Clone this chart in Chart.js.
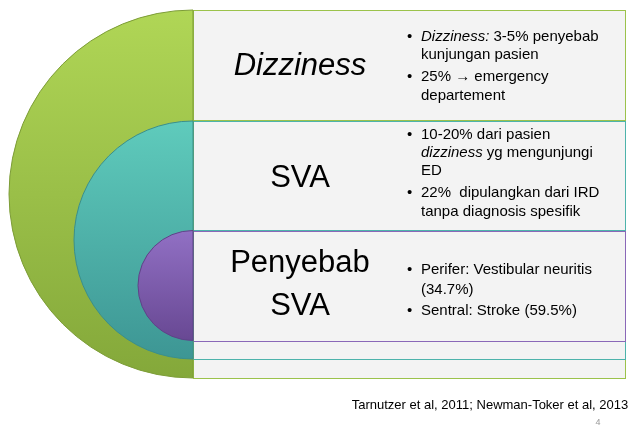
<!DOCTYPE html><html><head><script src="https://cdn.jsdelivr.net/npm/chart.js@4"></script>
<style>html,body{margin:0;background:#fff}canvas{display:block}</style></head><body>
<div style="width:638px;height:442px"><canvas id="c"></canvas></div>
<script>
const categories=["Dizziness","SVA","Penyebab\nSVA"];
const bullets=[
 [["• ",[["Dizziness:",1],[" 3-5% penyebab",0]]],["  ",[["kunjungan pasien",0]]],["• ",[["25% \u2192 emergency",0]]],["  ",[["departement",0]]]],
 [["• ",[["10-20% dari pasien",0]]],["  ",[["dizziness",1],[" yg mengunjungi",0]]],["  ",[["ED",0]]],["• ",[["22%  dipulangkan dari IRD",0]]],["  ",[["tanpa diagnosis spesifik",0]]]],
 [["• ",[["Perifer: Vestibular neuritis",0]]],["  ",[["(34.7%)",0]]],["• ",[["Sentral: Stroke (59.5%)",0]]]]
];
const citation="Tarnutzer et al, 2011; Newman-Toker et al, 2013";
const pageNo="4";
const F="'Liberation Sans','Open Sans',sans-serif";
const geo={
 circles:[{cy:194,r:184,c:["#b0d656","#84a83a"],b:"#7c9c36"},{cy:240,r:119,c:["#5fcbbc","#3d9694"],b:"#3a8f8c"},{cy:285.5,r:55,c:["#9170c4","#684893"],b:"#5e4388"}],
 rows:[[10,120,"#9bc24b"],[121,230,"#4db3ab"],[231,341,"#8a68b8"],[341,359,"#4db3ab"],[359,378,"#9bc24b"]],
 lineY:[[37,55,77,96],[135,153,171,193,212],[270,290,311]]
};
const plugin={id:'d',afterDraw(ch){
 const g=ch.ctx,xs=ch.scales.x,ys=ch.scales.y,X=v=>xs.getPixelForValue(v),Y=v=>ys.getPixelForValue(v);
 const x0=X(193),x1=X(625);
 // rects (bottom first)
 for(let i=geo.rows.length-1;i>=0;i--){const [a,b,col]=geo.rows[i];g.fillStyle="#f3f3f3";g.fillRect(x0,Y(a),x1-x0,Y(b)-Y(a));g.strokeStyle=col;g.lineWidth=1;g.strokeRect(x0+.5,Y(a)+.5,x1-x0,Y(b)-Y(a));}
 geo.circles.forEach(c=>{const cy=Y(c.cy),r=c.r;const gr=g.createLinearGradient(0,cy-r,0,cy+r);gr.addColorStop(0,c.c[0]);gr.addColorStop(1,c.c[1]);
  g.beginPath();g.arc(x0,cy,r,Math.PI/2,Math.PI*1.5);g.closePath();g.fillStyle=gr;g.fill();g.strokeStyle=c.b;g.lineWidth=1;g.stroke();});
 g.fillStyle="#000";g.textAlign="center";g.textBaseline="middle";
 g.font="italic 31px "+F;g.fillText(categories[0],X(300),Y(66));
 g.font="31px "+F;g.fillText(categories[1],X(300),Y(178));
 const p=categories[2].split("\n");g.fillText(p[0],X(300),Y(263));g.fillText(p[1],X(300),Y(306));
 g.textAlign="left";
 bullets.forEach((rows,i)=>rows.forEach((ln,j)=>{const y=Y(geo.lineY[i][j]);if(ln[0][0]==="•"){g.font="15px "+F;g.fillText("•",X(407),y);}
  let x=X(421);ln[1].forEach(([t,it])=>{g.font=(it?"italic ":"")+"15px "+F;g.fillText(t,x,y);x+=g.measureText(t).width;});}));
 g.textAlign="center";g.font="13px "+F;g.fillText(citation,X(490),Y(405));
 g.font="9px "+F;g.fillStyle="#999";g.fillText(pageNo,X(598),Y(423));
}};
new Chart(document.getElementById('c'),{type:'scatter',data:{datasets:[{data:[]}]},plugins:[plugin],
options:{responsive:true,maintainAspectRatio:false,animation:false,layout:{padding:0},plugins:{legend:{display:false},tooltip:{enabled:false}},
scales:{x:{type:'linear',min:0,max:638,display:false},y:{type:'linear',min:0,max:442,reverse:true,display:false}}}});
</script></body></html>
